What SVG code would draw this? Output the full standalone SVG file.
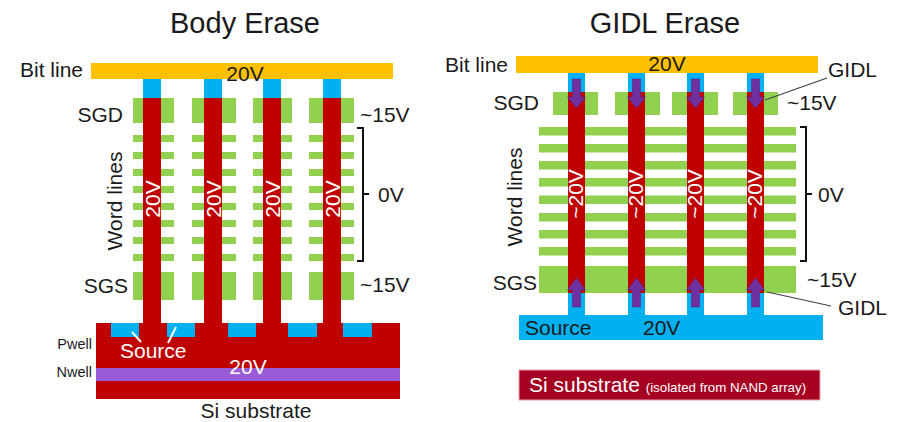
<svg xmlns="http://www.w3.org/2000/svg" width="905" height="422" viewBox="0 0 905 422">
<style>
text{font-family:"Liberation Sans",Arial,sans-serif;fill:#1a1a1a}
.t{font-size:29px}
.l{font-size:21px}
.s{font-size:14.5px}
.w{fill:#ffffff}
.c{text-anchor:middle}
.e{text-anchor:end}
.bl{fill:#FFC000}
.bu{fill:#00B0F0}
.rd{fill:#C00000}
.gr{fill:#92D050}
.pu{fill:#7030A0}
.ln{stroke:#404040;stroke-width:1.2;fill:none}
.br{stroke:#111;stroke-width:2;fill:none}
.wl{stroke:#ffffff;stroke-width:2;fill:none}
</style>
<defs>
<path id="adn" d="M-4,0 H4 V18 H9 L0,29 L-9,18 H-4 Z"/>
<path id="aup" d="M0,0 L9,12 H4 V29 H-4 V12 H-9 Z"/>
</defs>
<rect width="905" height="422" fill="#ffffff"/>

<!-- ============ LEFT: Body Erase ============ -->
<g id="left-title"><text class="t c" x="245" y="33">Body Erase</text></g>

<g id="left-substrate">
<rect class="rd" x="96" y="323" width="304" height="76"/>
<rect x="96" y="368" width="304" height="13" fill="#9A5CD6"/>
<rect class="bu" x="111" y="323" width="28" height="14"/>
<rect class="bu" x="167" y="323" width="28" height="14"/>
<rect class="bu" x="228" y="323" width="28" height="14"/>
<rect class="bu" x="288" y="323" width="29" height="14"/>
<rect class="bu" x="343" y="323" width="29" height="14"/>
<text class="l w" x="120" y="358">Source</text>
<text class="l w c" x="248" y="374">20V</text>
<text class="s e" x="92" y="349">Pwell</text>
<text class="s e" x="92" y="377">Nwell</text>
<text class="l c" x="256" y="418">Si substrate</text>
</g>

<g id="left-gates">
<g class="gr">
<rect x="133" y="98" width="41" height="25"/><rect x="192" y="98" width="44" height="25"/><rect x="253" y="98" width="39" height="25"/><rect x="309" y="98" width="45" height="25"/>
<rect x="133" y="272" width="41" height="28"/><rect x="192" y="272" width="44" height="28"/><rect x="253" y="272" width="39" height="28"/><rect x="309" y="272" width="45" height="28"/>
</g>
<g class="gr" id="left-wordlines">
<rect x="133" y="135" width="41" height="7"/><rect x="192" y="135" width="44" height="7"/><rect x="253" y="135" width="39" height="7"/><rect x="309" y="135" width="45" height="7"/>
<rect x="133" y="152" width="41" height="7"/><rect x="192" y="152" width="44" height="7"/><rect x="253" y="152" width="39" height="7"/><rect x="309" y="152" width="45" height="7"/>
<rect x="133" y="169" width="41" height="7"/><rect x="192" y="169" width="44" height="7"/><rect x="253" y="169" width="39" height="7"/><rect x="309" y="169" width="45" height="7"/>
<rect x="133" y="186" width="41" height="7"/><rect x="192" y="186" width="44" height="7"/><rect x="253" y="186" width="39" height="7"/><rect x="309" y="186" width="45" height="7"/>
<rect x="133" y="203" width="41" height="7"/><rect x="192" y="203" width="44" height="7"/><rect x="253" y="203" width="39" height="7"/><rect x="309" y="203" width="45" height="7"/>
<rect x="133" y="220" width="41" height="7"/><rect x="192" y="220" width="44" height="7"/><rect x="253" y="220" width="39" height="7"/><rect x="309" y="220" width="45" height="7"/>
<rect x="133" y="237" width="41" height="7"/><rect x="192" y="237" width="44" height="7"/><rect x="253" y="237" width="39" height="7"/><rect x="309" y="237" width="45" height="7"/>
<rect x="133" y="254" width="41" height="7"/><rect x="192" y="254" width="44" height="7"/><rect x="253" y="254" width="39" height="7"/><rect x="309" y="254" width="45" height="7"/>
</g>
</g>

<g id="left-pillars">
<rect class="rd" x="143" y="97" width="18" height="227"/>
<rect class="rd" x="204" y="97" width="18" height="227"/>
<rect class="rd" x="263" y="97" width="18" height="227"/>
<rect class="rd" x="323" y="97" width="18" height="227"/>
<rect class="bu" x="143" y="79" width="18" height="19"/>
<rect class="bu" x="204" y="79" width="18" height="19"/>
<rect class="bu" x="263" y="79" width="18" height="19"/>
<rect class="bu" x="323" y="79" width="18" height="19"/>
<text class="l w c" transform="translate(160,199) rotate(-90)">20V</text>
<text class="l w c" transform="translate(221,199) rotate(-90)">20V</text>
<text class="l w c" transform="translate(280,199) rotate(-90)">20V</text>
<text class="l w c" transform="translate(340,199) rotate(-90)">20V</text>
</g>

<g id="left-bitline">
<rect class="bl" x="91" y="63" width="302" height="16"/>
<text class="l c" x="245" y="81">20V</text>
<text class="l e" x="83" y="77">Bit line</text>
</g>

<g id="left-labels">
<text class="l e" x="123" y="122">SGD</text>
<text class="l" x="360" y="122">~15V</text>
<text class="l e" x="128" y="293">SGS</text>
<text class="l" x="360" y="292">~15V</text>
<text class="l" x="378" y="202">0V</text>
<text class="l c" transform="translate(122,201) rotate(-90)">Word lines</text>
<path class="br" d="M357,128 H363 V261 H357 M363,194 H369"/>
</g>

<!-- ============ RIGHT: GIDL Erase ============ -->
<g id="right-title"><text class="t c" x="665" y="33">GIDL Erase</text></g>

<g id="right-substrate">
<rect x="519" y="370" width="301" height="30" fill="#A50021" stroke="#E6A3AE" stroke-width="1"/>
<text class="l w" x="529" y="392">Si substrate <tspan style="font-size:13.3px">(isolated from NAND array)</tspan></text>
</g>

<g id="right-source">
<rect class="bu" x="519" y="315" width="304" height="25"/>
<rect class="bu" x="568" y="290" width="17" height="26"/>
<rect class="bu" x="628" y="290" width="17" height="26"/>
<rect class="bu" x="687" y="290" width="17" height="26"/>
<rect class="bu" x="747" y="290" width="17" height="26"/>
<text class="l" x="525" y="335">Source</text>
<text class="l" x="643" y="335">20V</text>
</g>

<g id="right-gates">
<g class="gr">
<rect x="553" y="92" width="45" height="23"/><rect x="615" y="92" width="45" height="23"/><rect x="672" y="92" width="46" height="23"/><rect x="733" y="92" width="45" height="23"/>
<rect x="539" y="266" width="257" height="27"/>
</g>
<g class="gr" id="right-wordlines">
<rect x="539" y="127" width="257" height="8.5"/>
<rect x="539" y="144" width="257" height="8.5"/>
<rect x="539" y="161" width="257" height="8.5"/>
<rect x="539" y="178" width="257" height="8.5"/>
<rect x="539" y="195.5" width="257" height="8.5"/>
<rect x="539" y="213" width="257" height="8.5"/>
<rect x="539" y="230" width="257" height="8.5"/>
<rect x="539" y="247" width="257" height="8.5"/>
</g>
</g>

<g id="right-pillars">
<rect class="rd" x="568" y="91" width="17" height="202"/>
<rect class="rd" x="628" y="91" width="17" height="202"/>
<rect class="rd" x="687" y="91" width="17" height="202"/>
<rect class="rd" x="747" y="91" width="17" height="202"/>
<rect class="bu" x="568" y="73" width="17" height="19"/>
<rect class="bu" x="628" y="73" width="17" height="19"/>
<rect class="bu" x="687" y="73" width="17" height="19"/>
<rect class="bu" x="747" y="73" width="17" height="19"/>
<text class="l w c" transform="translate(583,194) rotate(-90)">~20V</text>
<text class="l w c" transform="translate(643,194) rotate(-90)">~20V</text>
<text class="l w c" transform="translate(702,194) rotate(-90)">~20V</text>
<text class="l w c" transform="translate(762,194) rotate(-90)">~20V</text>
</g>

<g id="right-bitline">
<rect class="bl" x="516" y="56" width="302" height="17"/>
<text class="l c" x="667" y="71">20V</text>
<text class="l e" x="508" y="72">Bit line</text>
</g>

<g id="right-labels">
<text class="l e" x="539" y="110">SGD</text>
<text class="l" x="787" y="110">~15V</text>
<text class="l e" x="537" y="290">SGS</text>
<text class="l" x="807" y="287">~15V</text>
<text class="l" x="818" y="202">0V</text>
<text class="l c" transform="translate(522,197) rotate(-90)">Word lines</text>
<path class="br" d="M800,127 H806 V261 H800 M806,194 H812"/>
<text class="l" x="828" y="77">GIDL</text>
<text class="l" x="838" y="315">GIDL</text>
</g>

<g id="connectors">
<g class="pu" stroke="#5a2a88" stroke-width="0.6">
<use href="#adn" x="576.5" y="79"/>
<use href="#adn" x="636.5" y="79"/>
<use href="#adn" x="695.5" y="79"/>
<use href="#adn" x="755.5" y="79"/>
<use href="#aup" x="576.5" y="278"/>
<use href="#aup" x="636.5" y="278"/>
<use href="#aup" x="695.5" y="278"/>
<use href="#aup" x="755.5" y="278"/>
</g>
<path class="ln" d="M827,78 L765,100"/>
<path class="ln" d="M767,292 L831,306"/>
<path class="wl" d="M132,332 L141,342"/>
<path class="wl" d="M176,327 L168,343"/>
</g>
</svg>
